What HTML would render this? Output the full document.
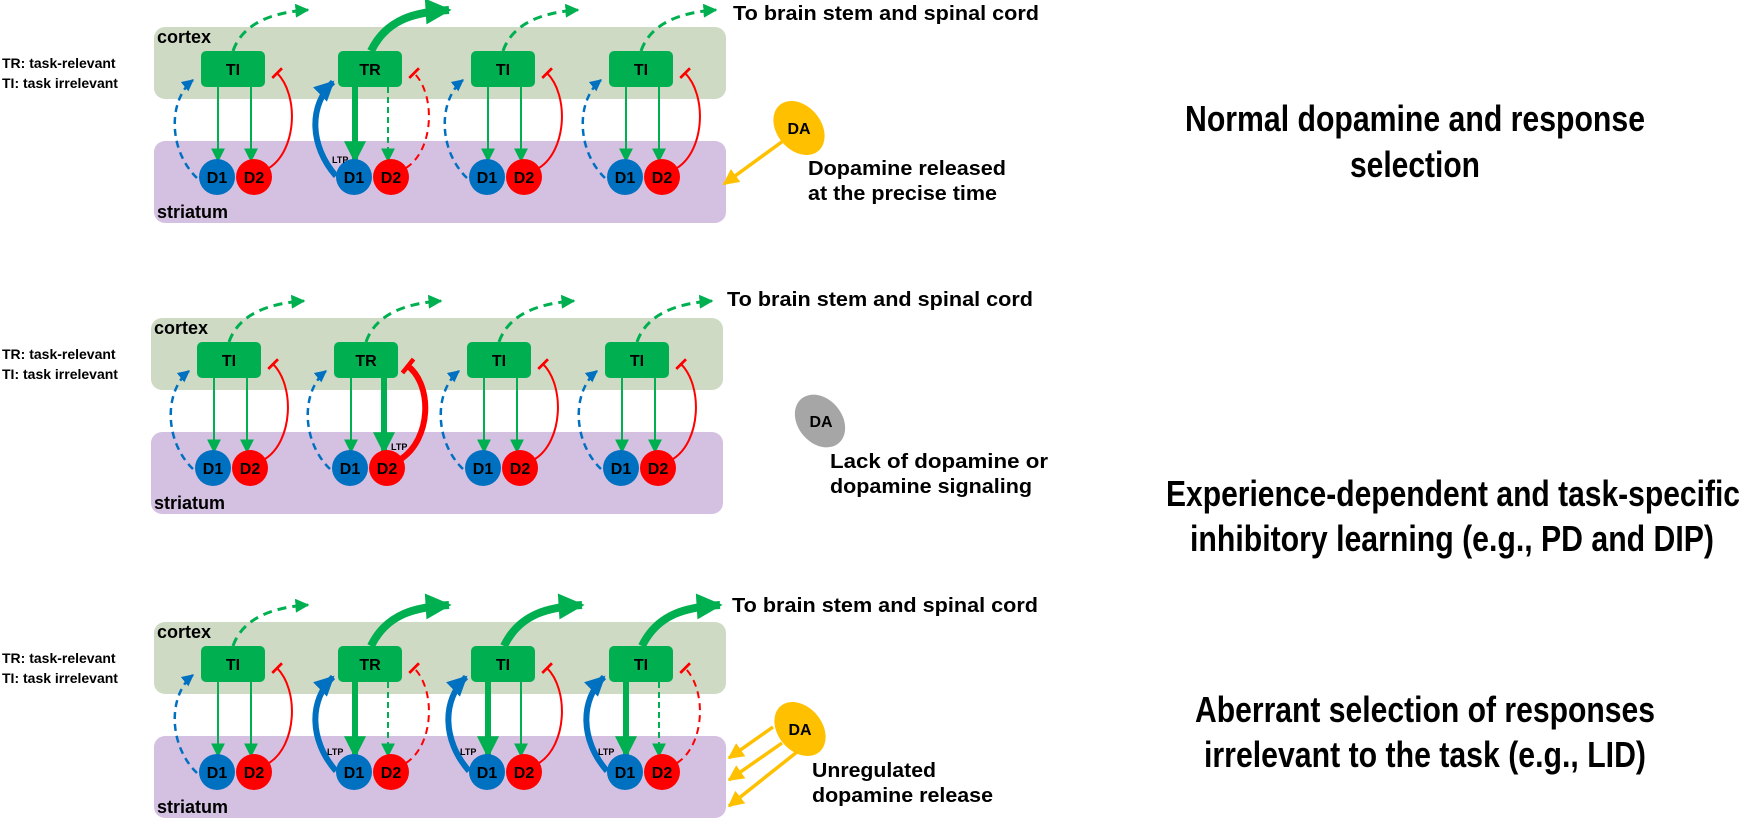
<!DOCTYPE html>
<html><head><meta charset="utf-8"><style>
html,body{margin:0;padding:0;background:#fff;}
svg{display:block;font-family:"Liberation Sans",Arial,sans-serif;font-weight:bold;}
</style></head><body>
<svg width="1741" height="818" viewBox="0 0 1741 818" xmlns="http://www.w3.org/2000/svg">
<defs>
<marker id="gH" markerUnits="userSpaceOnUse" viewBox="0 0 10 10" refX="9" refY="5" markerWidth="14" markerHeight="14" orient="auto"><path d="M0,0 L10,5 L0,10z" fill="#00b050"/></marker>
<marker id="gHB" markerUnits="userSpaceOnUse" viewBox="0 0 10 10" refX="9" refY="5" markerWidth="22" markerHeight="22" orient="auto"><path d="M0,0 L10,5 L0,10z" fill="#00b050"/></marker>
<marker id="gHT" markerUnits="userSpaceOnUse" viewBox="0 0 10 10" refX="9" refY="5" markerWidth="28" markerHeight="26" orient="auto"><path d="M0,0 L10,5 L0,10z" fill="#00b050"/></marker>
<marker id="bH" markerUnits="userSpaceOnUse" viewBox="0 0 10 10" refX="9" refY="5" markerWidth="12" markerHeight="12" orient="auto"><path d="M0,0 L10,5 L0,10z" fill="#0070c0"/></marker>
<marker id="bHB" markerUnits="userSpaceOnUse" viewBox="0 0 10 10" refX="9" refY="5" markerWidth="20" markerHeight="20" orient="auto"><path d="M0,0 L10,5 L0,10z" fill="#0070c0"/></marker>
<marker id="yH" markerUnits="userSpaceOnUse" viewBox="0 0 10 10" refX="9" refY="5" markerWidth="16" markerHeight="16" orient="auto"><path d="M0,0 L10,5 L0,10z" fill="#ffc000"/></marker>
<marker id="rT" markerUnits="userSpaceOnUse" viewBox="0 0 10 10" refX="9" refY="5" markerWidth="14" markerHeight="14" orient="auto"><path d="M9,0 L9,10" stroke="#ff0000" stroke-width="2.2"/></marker>
<marker id="rTB" markerUnits="userSpaceOnUse" viewBox="0 0 10 10" refX="8" refY="5" markerWidth="18" markerHeight="18" orient="auto"><path d="M8,0 L8,10" stroke="#ff0000" stroke-width="2.5"/></marker>
</defs>

<!-- ============ PANEL 1 ============ -->
<g>
<rect x="154" y="27" width="572" height="72" rx="11" fill="#cfdac5"/>
<rect x="154" y="141" width="572" height="82" rx="11" fill="#d4c1e1"/>
<text x="157" y="43" font-size="18">cortex</text>
<text x="157" y="218" font-size="18">striatum</text>
<text x="2" y="68" font-size="14">TR: task-relevant</text>
<text x="2" y="88" font-size="14">TI: task irrelevant</text>
</g>
<!-- ============ PANEL 2 ============ -->
<g transform="translate(-3,291)">
<rect x="154" y="27" width="572" height="72" rx="11" fill="#cfdac5"/>
<rect x="154" y="141" width="572" height="82" rx="11" fill="#d4c1e1"/>
<text x="157" y="43" font-size="18">cortex</text>
<text x="157" y="218" font-size="18">striatum</text>
</g>
<text x="2" y="359" font-size="14">TR: task-relevant</text>
<text x="2" y="379" font-size="14">TI: task irrelevant</text>
<!-- ============ PANEL 3 ============ -->
<g transform="translate(0,595)">
<rect x="154" y="27" width="572" height="72" rx="11" fill="#cfdac5"/>
<rect x="154" y="141" width="572" height="82" rx="11" fill="#d4c1e1"/>
<text x="157" y="43" font-size="18">cortex</text>
<text x="157" y="218" font-size="18">striatum</text>
<text x="-152" y="68" font-size="14" transform="translate(154,0)">TR: task-relevant</text>
<text x="-152" y="88" font-size="14" transform="translate(154,0)">TI: task irrelevant</text>
</g>

<!-- ===== Normal units ===== -->
<!-- P1 U1 -->
<g transform="translate(0,0)">
<path d="M233,51 C243,22 275,12 308,10" stroke="#00b050" stroke-width="3" stroke-dasharray="9,6" fill="none" marker-end="url(#gH)"/>
<path d="M197,178 C168,150 168,100 193,80" stroke="#0070c0" stroke-width="2.5" stroke-dasharray="7,5" fill="none" marker-end="url(#bH)"/>
<path d="M218,87 V161" stroke="#00b050" stroke-width="2" marker-end="url(#gH)"/>
<path d="M251,87 V161" stroke="#00b050" stroke-width="2" marker-end="url(#gH)"/>
<path d="M269,168 C297,150 299,95 277,73" stroke="#ff0000" stroke-width="2" fill="none" marker-end="url(#rT)"/>
<rect x="201" y="51" width="64" height="36" rx="5" fill="#00b050"/><text x="233" y="75" font-size="16" text-anchor="middle">TI</text>
<circle cx="217" cy="177" r="18" fill="#0070c0"/><circle cx="254" cy="177" r="18" fill="#ff0000"/>
<text x="217" y="183" font-size="16" text-anchor="middle">D1</text><text x="254" y="183" font-size="16" text-anchor="middle">D2</text>
</g>
<!-- P1 U2 TR -->
<g transform="translate(137,0)">
<path d="M234,51 C250,18 280,12 312,10" stroke="#00b050" stroke-width="8" fill="none" marker-end="url(#gHT)"/>
<path d="M199,176 C172,145 172,105 196,82" stroke="#0070c0" stroke-width="6" fill="none" marker-end="url(#bHB)"/>
<path d="M218,87 V161" stroke="#00b050" stroke-width="6" marker-end="url(#gHB)"/>
<path d="M251,87 V161" stroke="#00b050" stroke-width="2" stroke-dasharray="6,4" marker-end="url(#gH)"/>
<path d="M269,168 C297,150 299,95 277,73" stroke="#ff0000" stroke-width="2" stroke-dasharray="7,5" fill="none" marker-end="url(#rT)"/>
<rect x="201" y="51" width="64" height="36" rx="5" fill="#00b050"/><text x="233" y="75" font-size="16" text-anchor="middle">TR</text>
<circle cx="217" cy="177" r="18" fill="#0070c0"/><circle cx="254" cy="177" r="18" fill="#ff0000"/>
<text x="217" y="183" font-size="16" text-anchor="middle">D1</text><text x="254" y="183" font-size="16" text-anchor="middle">D2</text>
<text x="195" y="163" font-size="9">LTP</text>
</g>
<!-- P1 U3 -->
<g transform="translate(270,0)">
<path d="M233,51 C243,22 275,12 308,10" stroke="#00b050" stroke-width="3" stroke-dasharray="9,6" fill="none" marker-end="url(#gH)"/>
<path d="M197,178 C168,150 168,100 193,80" stroke="#0070c0" stroke-width="2.5" stroke-dasharray="7,5" fill="none" marker-end="url(#bH)"/>
<path d="M218,87 V161" stroke="#00b050" stroke-width="2" marker-end="url(#gH)"/>
<path d="M251,87 V161" stroke="#00b050" stroke-width="2" marker-end="url(#gH)"/>
<path d="M269,168 C297,150 299,95 277,73" stroke="#ff0000" stroke-width="2" fill="none" marker-end="url(#rT)"/>
<rect x="201" y="51" width="64" height="36" rx="5" fill="#00b050"/><text x="233" y="75" font-size="16" text-anchor="middle">TI</text>
<circle cx="217" cy="177" r="18" fill="#0070c0"/><circle cx="254" cy="177" r="18" fill="#ff0000"/>
<text x="217" y="183" font-size="16" text-anchor="middle">D1</text><text x="254" y="183" font-size="16" text-anchor="middle">D2</text>
</g>
<!-- P1 U4 -->
<g transform="translate(408,0)">
<path d="M233,51 C243,22 275,12 308,10" stroke="#00b050" stroke-width="3" stroke-dasharray="9,6" fill="none" marker-end="url(#gH)"/>
<path d="M197,178 C168,150 168,100 193,80" stroke="#0070c0" stroke-width="2.5" stroke-dasharray="7,5" fill="none" marker-end="url(#bH)"/>
<path d="M218,87 V161" stroke="#00b050" stroke-width="2" marker-end="url(#gH)"/>
<path d="M251,87 V161" stroke="#00b050" stroke-width="2" marker-end="url(#gH)"/>
<path d="M269,168 C297,150 299,95 277,73" stroke="#ff0000" stroke-width="2" fill="none" marker-end="url(#rT)"/>
<rect x="201" y="51" width="64" height="36" rx="5" fill="#00b050"/><text x="233" y="75" font-size="16" text-anchor="middle">TI</text>
<circle cx="217" cy="177" r="18" fill="#0070c0"/><circle cx="254" cy="177" r="18" fill="#ff0000"/>
<text x="217" y="183" font-size="16" text-anchor="middle">D1</text><text x="254" y="183" font-size="16" text-anchor="middle">D2</text>
</g>
<text x="733" y="20" font-size="20" textLength="306" lengthAdjust="spacingAndGlyphs">To brain stem and spinal cord</text>
<ellipse cx="799" cy="128" rx="30" ry="22" transform="rotate(50 799 128)" fill="#ffc000"/>
<text x="799" y="134" font-size="16" text-anchor="middle">DA</text>
<path d="M783,141 L724,184" stroke="#ffc000" stroke-width="3.5" marker-end="url(#yH)"/>
<text x="808" y="175" font-size="20" textLength="198" lengthAdjust="spacingAndGlyphs">Dopamine released</text>
<text x="808" y="200" font-size="20" textLength="189" lengthAdjust="spacingAndGlyphs">at the precise time</text>

<!-- ===== PANEL 2 units ===== -->
<g transform="translate(-4,291)">
<path d="M233,51 C243,22 275,12 308,10" stroke="#00b050" stroke-width="3" stroke-dasharray="9,6" fill="none" marker-end="url(#gH)"/>
<path d="M197,178 C168,150 168,100 193,80" stroke="#0070c0" stroke-width="2.5" stroke-dasharray="7,5" fill="none" marker-end="url(#bH)"/>
<path d="M218,87 V161" stroke="#00b050" stroke-width="2" marker-end="url(#gH)"/>
<path d="M251,87 V161" stroke="#00b050" stroke-width="2" marker-end="url(#gH)"/>
<path d="M269,168 C297,150 299,95 277,73" stroke="#ff0000" stroke-width="2" fill="none" marker-end="url(#rT)"/>
<rect x="201" y="51" width="64" height="36" rx="5" fill="#00b050"/><text x="233" y="75" font-size="16" text-anchor="middle">TI</text>
<circle cx="217" cy="177" r="18" fill="#0070c0"/><circle cx="254" cy="177" r="18" fill="#ff0000"/>
<text x="217" y="183" font-size="16" text-anchor="middle">D1</text><text x="254" y="183" font-size="16" text-anchor="middle">D2</text>
</g>
<g transform="translate(133,291)">
<path d="M233,51 C243,22 275,12 308,10" stroke="#00b050" stroke-width="3" stroke-dasharray="9,6" fill="none" marker-end="url(#gH)"/>
<path d="M197,178 C168,150 168,100 193,80" stroke="#0070c0" stroke-width="2.5" stroke-dasharray="7,5" fill="none" marker-end="url(#bH)"/>
<path d="M218,87 V161" stroke="#00b050" stroke-width="2" marker-end="url(#gH)"/>
<path d="M251,87 V161" stroke="#00b050" stroke-width="6" marker-end="url(#gHB)"/>
<path d="M268,168 C298,148 300,95 275,75" stroke="#ff0000" stroke-width="6" fill="none" marker-end="url(#rTB)"/>
<rect x="201" y="51" width="64" height="36" rx="5" fill="#00b050"/><text x="233" y="75" font-size="16" text-anchor="middle">TR</text>
<circle cx="217" cy="177" r="18" fill="#0070c0"/><circle cx="254" cy="177" r="18" fill="#ff0000"/>
<text x="217" y="183" font-size="16" text-anchor="middle">D1</text><text x="254" y="183" font-size="16" text-anchor="middle">D2</text>
<text x="258" y="159" font-size="9">LTP</text>
</g>
<g transform="translate(266,291)">
<path d="M233,51 C243,22 275,12 308,10" stroke="#00b050" stroke-width="3" stroke-dasharray="9,6" fill="none" marker-end="url(#gH)"/>
<path d="M197,178 C168,150 168,100 193,80" stroke="#0070c0" stroke-width="2.5" stroke-dasharray="7,5" fill="none" marker-end="url(#bH)"/>
<path d="M218,87 V161" stroke="#00b050" stroke-width="2" marker-end="url(#gH)"/>
<path d="M251,87 V161" stroke="#00b050" stroke-width="2" marker-end="url(#gH)"/>
<path d="M269,168 C297,150 299,95 277,73" stroke="#ff0000" stroke-width="2" fill="none" marker-end="url(#rT)"/>
<rect x="201" y="51" width="64" height="36" rx="5" fill="#00b050"/><text x="233" y="75" font-size="16" text-anchor="middle">TI</text>
<circle cx="217" cy="177" r="18" fill="#0070c0"/><circle cx="254" cy="177" r="18" fill="#ff0000"/>
<text x="217" y="183" font-size="16" text-anchor="middle">D1</text><text x="254" y="183" font-size="16" text-anchor="middle">D2</text>
</g>
<g transform="translate(404,291)">
<path d="M233,51 C243,22 275,12 308,10" stroke="#00b050" stroke-width="3" stroke-dasharray="9,6" fill="none" marker-end="url(#gH)"/>
<path d="M197,178 C168,150 168,100 193,80" stroke="#0070c0" stroke-width="2.5" stroke-dasharray="7,5" fill="none" marker-end="url(#bH)"/>
<path d="M218,87 V161" stroke="#00b050" stroke-width="2" marker-end="url(#gH)"/>
<path d="M251,87 V161" stroke="#00b050" stroke-width="2" marker-end="url(#gH)"/>
<path d="M269,168 C297,150 299,95 277,73" stroke="#ff0000" stroke-width="2" fill="none" marker-end="url(#rT)"/>
<rect x="201" y="51" width="64" height="36" rx="5" fill="#00b050"/><text x="233" y="75" font-size="16" text-anchor="middle">TI</text>
<circle cx="217" cy="177" r="18" fill="#0070c0"/><circle cx="254" cy="177" r="18" fill="#ff0000"/>
<text x="217" y="183" font-size="16" text-anchor="middle">D1</text><text x="254" y="183" font-size="16" text-anchor="middle">D2</text>
</g>
<text x="727" y="306" font-size="20" textLength="306" lengthAdjust="spacingAndGlyphs">To brain stem and spinal cord</text>
<ellipse cx="820" cy="421" rx="29" ry="22" transform="rotate(50 820 421)" fill="#a6a6a6"/>
<text x="821" y="427" font-size="16" text-anchor="middle">DA</text>
<text x="830" y="468" font-size="20" textLength="218" lengthAdjust="spacingAndGlyphs">Lack of dopamine or</text>
<text x="830" y="493" font-size="20" textLength="202" lengthAdjust="spacingAndGlyphs">dopamine signaling</text>

<!-- ===== PANEL 3 units ===== -->
<g transform="translate(0,595)">
<path d="M233,51 C243,22 275,12 308,10" stroke="#00b050" stroke-width="3" stroke-dasharray="9,6" fill="none" marker-end="url(#gH)"/>
<path d="M197,178 C168,150 168,100 193,80" stroke="#0070c0" stroke-width="2.5" stroke-dasharray="7,5" fill="none" marker-end="url(#bH)"/>
<path d="M218,87 V161" stroke="#00b050" stroke-width="2" marker-end="url(#gH)"/>
<path d="M251,87 V161" stroke="#00b050" stroke-width="2" marker-end="url(#gH)"/>
<path d="M269,168 C297,150 299,95 277,73" stroke="#ff0000" stroke-width="2" fill="none" marker-end="url(#rT)"/>
<rect x="201" y="51" width="64" height="36" rx="5" fill="#00b050"/><text x="233" y="75" font-size="16" text-anchor="middle">TI</text>
<circle cx="217" cy="177" r="18" fill="#0070c0"/><circle cx="254" cy="177" r="18" fill="#ff0000"/>
<text x="217" y="183" font-size="16" text-anchor="middle">D1</text><text x="254" y="183" font-size="16" text-anchor="middle">D2</text>
</g>
<g transform="translate(137,595)">
<path d="M234,51 C250,18 280,12 312,10" stroke="#00b050" stroke-width="8" fill="none" marker-end="url(#gHT)"/>
<path d="M199,176 C172,145 172,105 196,82" stroke="#0070c0" stroke-width="6" fill="none" marker-end="url(#bHB)"/>
<path d="M218,87 V161" stroke="#00b050" stroke-width="6" marker-end="url(#gHB)"/>
<path d="M251,87 V161" stroke="#00b050" stroke-width="2" stroke-dasharray="6,4" marker-end="url(#gH)"/>
<path d="M269,168 C297,150 299,95 277,73" stroke="#ff0000" stroke-width="2" stroke-dasharray="7,5" fill="none" marker-end="url(#rT)"/>
<rect x="201" y="51" width="64" height="36" rx="5" fill="#00b050"/><text x="233" y="75" font-size="16" text-anchor="middle">TR</text>
<circle cx="217" cy="177" r="18" fill="#0070c0"/><circle cx="254" cy="177" r="18" fill="#ff0000"/>
<text x="217" y="183" font-size="16" text-anchor="middle">D1</text><text x="254" y="183" font-size="16" text-anchor="middle">D2</text>
<text x="190" y="160" font-size="9">LTP</text>
</g>
<g transform="translate(270,595)">
<path d="M234,51 C250,18 280,12 312,10" stroke="#00b050" stroke-width="8" fill="none" marker-end="url(#gHT)"/>
<path d="M199,176 C172,145 172,105 196,82" stroke="#0070c0" stroke-width="6" fill="none" marker-end="url(#bHB)"/>
<path d="M218,87 V161" stroke="#00b050" stroke-width="6" marker-end="url(#gHB)"/>
<path d="M251,87 V161" stroke="#00b050" stroke-width="2" marker-end="url(#gH)"/>
<path d="M269,168 C297,150 299,95 277,73" stroke="#ff0000" stroke-width="2" fill="none" marker-end="url(#rT)"/>
<rect x="201" y="51" width="64" height="36" rx="5" fill="#00b050"/><text x="233" y="75" font-size="16" text-anchor="middle">TI</text>
<circle cx="217" cy="177" r="18" fill="#0070c0"/><circle cx="254" cy="177" r="18" fill="#ff0000"/>
<text x="217" y="183" font-size="16" text-anchor="middle">D1</text><text x="254" y="183" font-size="16" text-anchor="middle">D2</text>
<text x="190" y="160" font-size="9">LTP</text>
</g>
<g transform="translate(408,595)">
<path d="M234,51 C250,18 280,12 312,10" stroke="#00b050" stroke-width="8" fill="none" marker-end="url(#gHT)"/>
<path d="M199,176 C172,145 172,105 196,82" stroke="#0070c0" stroke-width="6" fill="none" marker-end="url(#bHB)"/>
<path d="M218,87 V161" stroke="#00b050" stroke-width="6" marker-end="url(#gHB)"/>
<path d="M251,87 V161" stroke="#00b050" stroke-width="2" stroke-dasharray="6,4" marker-end="url(#gH)"/>
<path d="M269,168 C297,150 299,95 277,73" stroke="#ff0000" stroke-width="2" stroke-dasharray="7,5" fill="none" marker-end="url(#rT)"/>
<rect x="201" y="51" width="64" height="36" rx="5" fill="#00b050"/><text x="233" y="75" font-size="16" text-anchor="middle">TI</text>
<circle cx="217" cy="177" r="18" fill="#0070c0"/><circle cx="254" cy="177" r="18" fill="#ff0000"/>
<text x="217" y="183" font-size="16" text-anchor="middle">D1</text><text x="254" y="183" font-size="16" text-anchor="middle">D2</text>
<text x="190" y="160" font-size="9">LTP</text>
</g>
<text x="732" y="612" font-size="20" textLength="306" lengthAdjust="spacingAndGlyphs">To brain stem and spinal cord</text>
<path d="M773,727 L729,758" stroke="#ffc000" stroke-width="3.5" marker-end="url(#yH)"/>
<path d="M782,743 L729,780" stroke="#ffc000" stroke-width="3.5" marker-end="url(#yH)"/>
<path d="M797,752 L729,806" stroke="#ffc000" stroke-width="3.5" marker-end="url(#yH)"/>
<ellipse cx="800" cy="729" rx="30" ry="22" transform="rotate(50 800 729)" fill="#ffc000"/>
<text x="800" y="735" font-size="16" text-anchor="middle">DA</text>
<text x="812" y="777" font-size="20" textLength="124" lengthAdjust="spacingAndGlyphs">Unregulated</text>
<text x="812" y="802" font-size="20" textLength="181" lengthAdjust="spacingAndGlyphs">dopamine release</text>

<!-- ===== Titles ===== -->
<text x="1415" y="131" font-size="36" text-anchor="middle" textLength="460" lengthAdjust="spacingAndGlyphs">Normal dopamine and response</text>
<text x="1415" y="177" font-size="36" text-anchor="middle" textLength="130" lengthAdjust="spacingAndGlyphs">selection</text>
<text x="1453" y="506" font-size="36" text-anchor="middle" textLength="574" lengthAdjust="spacingAndGlyphs">Experience-dependent and task-specific</text>
<text x="1452" y="551" font-size="36" text-anchor="middle" textLength="524" lengthAdjust="spacingAndGlyphs">inhibitory learning (e.g., PD and DIP)</text>
<text x="1425" y="722" font-size="36" text-anchor="middle" textLength="460" lengthAdjust="spacingAndGlyphs">Aberrant selection of responses</text>
<text x="1425" y="767" font-size="36" text-anchor="middle" textLength="442" lengthAdjust="spacingAndGlyphs">irrelevant to the task (e.g., LID)</text>
</svg>
</body></html>
